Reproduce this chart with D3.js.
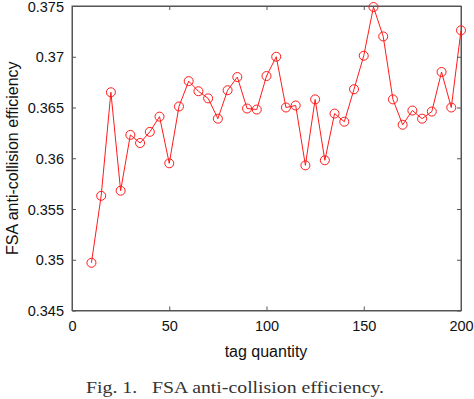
<!DOCTYPE html>
<html>
<head>
<meta charset="utf-8">
<script src="https://cdn.jsdelivr.net/npm/d3@7"></script>
<style>
  html, body { margin: 0; padding: 0; background: #fff; }
  svg { display: block; }
</style>
</head>
<body>
<script>
const tagQuantity = [10,15,20,25,30,35,40,45,50,55,60,65,70,75,80,85,90,95,100,105,110,115,120,125,130,135,140,145,150,155,160,165,170,175,180,185,190,195,200];
const efficiency = [0.3497,0.3563,0.3665,0.3568,0.3623,0.3615,0.3626,0.3641,0.3595,0.3651,0.3676,0.3666,0.3659,0.3639,0.3667,0.3680,0.3649,0.3648,0.3681,0.3700,0.3650,0.3652,0.3593,0.3658,0.3598,0.3644,0.3636,0.3668,0.3701,0.3749,0.3720,0.3658,0.3633,0.3647,0.3639,0.3646,0.3685,0.3650,0.3726];
const xTicks = [0,50,100,150,200];
const yTicks = [0.345,0.35,0.355,0.36,0.365,0.37,0.375];
const xLabel = "tag quantity";
const yLabel = "FSA anti-collision efficiency";
const caption = "Fig. 1.   FSA anti-collision efficiency.";

const W = 474, H = 399;
const L = 72, R = 461, T = 6, B = 310.5;
const svg = d3.select("body").append("svg").attr("width", W).attr("height", H);

const x = d3.scaleLinear().domain([0,200]).range([L,R]);
const y = d3.scaleLinear().domain([0.345,0.375]).range([B,T]);
const axisColor = "#555";
const font = "Liberation Sans, Arial, sans-serif";

// box
svg.append("rect").attr("x", L).attr("y", T).attr("width", R-L).attr("height", B-T)
  .attr("fill", "none").attr("stroke", axisColor).attr("stroke-width", 1);

const fmtY = d => d3.format("")(+d.toFixed(3));
const tl = 4;
const gx = svg.append("g").attr("transform", `translate(0,${B})`)
  .call(d3.axisBottom(x).tickValues(xTicks).tickSizeInner(-tl).tickSizeOuter(0).tickPadding(10).tickFormat(d3.format("d")));
const gxt = svg.append("g").attr("transform", `translate(0,${T})`)
  .call(d3.axisTop(x).tickValues(xTicks).tickSizeInner(-tl).tickSizeOuter(0).tickFormat(""));
const gy = svg.append("g").attr("transform", `translate(${L},0)`)
  .call(d3.axisLeft(y).tickValues(yTicks).tickSizeInner(-tl).tickSizeOuter(0).tickPadding(8).tickFormat(fmtY));
const gyr = svg.append("g").attr("transform", `translate(${R},0)`)
  .call(d3.axisRight(y).tickValues(yTicks).tickSizeInner(-tl).tickSizeOuter(0).tickFormat(""));

[gx,gxt,gy,gyr].forEach(g => {
  g.select(".domain").attr("stroke", axisColor);
  g.selectAll(".tick line").attr("stroke", axisColor);
  g.selectAll(".tick text").attr("fill", "#111").style("font-family", font).style("font-size", "14.5px");
});
gy.selectAll(".tick text").attr("dy", "0.36em");

const line = d3.line().x((d,i) => x(tagQuantity[i])).y(d => y(d));
svg.append("path").datum(efficiency).attr("d", line)
  .attr("fill", "none").attr("stroke", "#ff1a1a").attr("stroke-width", 1);

svg.append("g").selectAll("circle").data(efficiency).join("circle")
  .attr("cx", (d,i) => x(tagQuantity[i])).attr("cy", d => y(d)).attr("r", 4.5)
  .attr("fill", "none").attr("stroke", "#ff1a1a").attr("stroke-width", 1);

svg.append("text").attr("x", (L+R)/2 - 0.5).attr("y", 357).attr("text-anchor", "middle")
  .style("font-family", font).style("font-size", "16px").attr("fill", "#111").text(xLabel);
svg.append("text").attr("transform", `translate(18,${(T+B)/2}) rotate(-90)`).attr("text-anchor", "middle")
  .style("font-family", font).style("font-size", "16px").attr("fill", "#111").text(yLabel);

svg.append("text").attr("x", 86).attr("y", 393).attr("textLength", 298).attr("lengthAdjust", "spacingAndGlyphs")
  .style("font-family", "Liberation Serif, Times New Roman, serif").style("font-size", "17px").style("white-space", "pre")
  .attr("fill", "#333").text(caption);
</script>
</body>
</html>
